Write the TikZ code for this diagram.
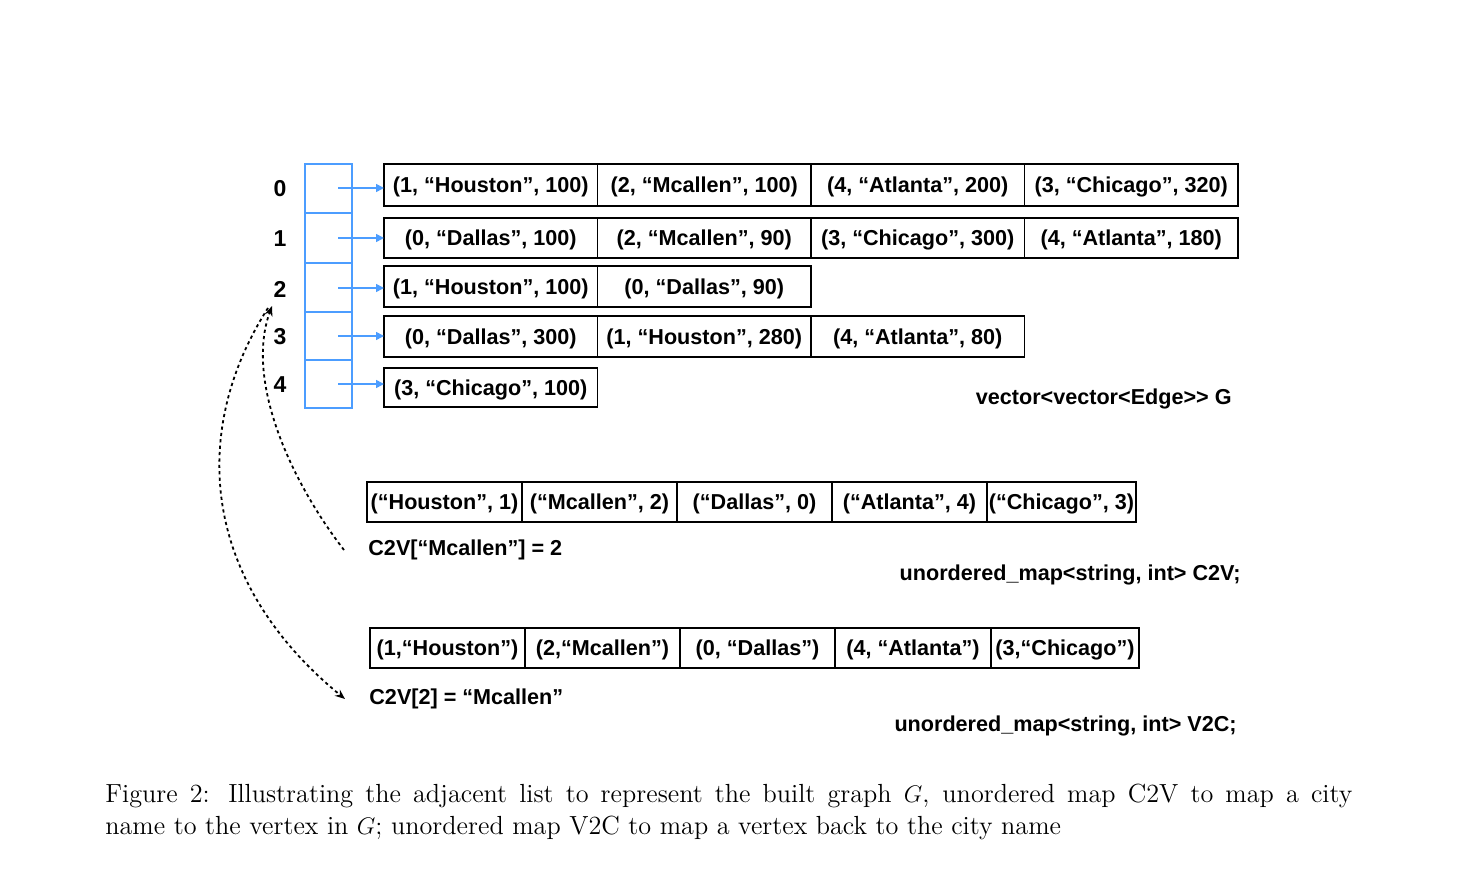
\documentclass[tikz,border=0pt]{standalone}
\usepackage{fontspec}
\setmainfont{Latin Modern Roman}
\newfontfamily\sansf{Liberation Sans}
\usetikzlibrary{arrows.meta}
\begin{document}
\begin{tikzpicture}[x=0.5pt,y=-0.5pt,
  cell/.style={draw,line width=0.9pt,font=\sansf\bfseries\fontsize{10.8}{13}\selectfont},
  idx/.style={draw=blue!55!cyan!70!white,line width=0.9pt},
  lbl/.style={font=\sansf\bfseries\fontsize{11.5}{13}\selectfont},
  txt/.style={font=\sansf\bfseries\fontsize{10.8}{13}\selectfont,inner sep=0pt},
  barr/.style={draw=blue!55!cyan!70!white,line width=0.8pt,-{Triangle[length=4pt,width=4pt]}},
  darr/.style={dash pattern=on 1.6pt off 1.6pt,line width=0.9pt,-{Stealth[length=5pt,width=4pt]}}]
\useasboundingbox (0,0) rectangle (1478,876);
% index column
\foreach \i/\a/\b/\c in {0/164/213/188,1/213/263/238,2/263/312/288,3/312/360/336,4/360/408/384}{
  \draw[idx] (305,\a) rectangle (352,\b);
  \node[lbl] (n\i) at (280,\c+1) {\i};
  \coordinate (s\i) at (338,\c);
  \coordinate (t\i) at (384,\c);
}
% adjacency rows
\newcommand\row[4]{%
  \foreach \t [count=\k from 0] in {#4}{
    \pgfmathsetmacro\xa{384+213.5*\k}\pgfmathsetmacro\xb{\xa+213.5}
    \draw[cell] (\xa,#2) rectangle (\xb,#3);
    \node[cell,draw=none] (r#1c\k) at ({(\xa+\xb)/2},{(#2+#3)/2+2}) {\t};
  }}
\row{0}{164}{206}{{(1, “Houston”, 100)},{(2, “Mcallen”, 100)},{(4, “Atlanta”, 200)},{(3, “Chicago”, 320)}}
\row{1}{218}{258}{{(0, “Dallas”, 100)},{(2, “Mcallen”, 90)},{(3, “Chicago”, 300)},{(4, “Atlanta”, 180)}}
\row{2}{266}{307}{{(1, “Houston”, 100)},{(0, “Dallas”, 90)}}
\row{3}{316}{357}{{(0, “Dallas”, 300)},{(1, “Houston”, 280)},{(4, “Atlanta”, 80)}}
\row{4}{368}{407}{{(3, “Chicago”, 100)}}
\foreach \i in {0,...,4}{\draw[barr] (s\i) -- (t\i);}
\node[txt,anchor=east] (vg) at (1232,399) {vector<vector<Edge>> G};
% C2V
\foreach \t/\xa/\xb [count=\k] in {{(“Houston”, 1)}/367/522,{(“Mcallen”, 2)}/522/677,{(“Dallas”, 0)}/677/832,{(“Atlanta”, 4)}/832/987,{(“Chicago”, 3)}/987/1136}{
  \draw[cell] (\xa,482) rectangle (\xb,522);
  \node[cell,draw=none] (c\k) at ({(\xa+\xb)/2},504) {\t};
}
\foreach \t/\xa/\xb [count=\k] in {{(1,“Houston”)}/370/525,{(2,“Mcallen”)}/525/680,{(0, “Dallas”)}/680/835,{(4, “Atlanta”)}/835/991,{(3,“Chicago”)}/991/1139}{
  \draw[cell] (\xa,628) rectangle (\xb,668);
  \node[cell,draw=none] (v\k) at ({(\xa+\xb)/2},650) {\t};
}
\node[txt,anchor=west] (e1) at (368,550) {C2V[“Mcallen”] = 2};
\node[txt,anchor=east] (m1) at (1241,575) {unordered\_map<string, int> C2V;};
\node[txt,anchor=west] (e2) at (369,699) {C2V[2] = “Mcallen”};
\node[txt,anchor=east] (m2) at (1237,726) {unordered\_map<string, int> V2C;};
% dotted arrows
\draw[darr] ([xshift=-12]e1.west) .. controls (290,480) and (245,380) .. (272,306);
\draw[darr] (268,308) .. controls (190,430) and (200,580) .. ([xshift=-12]e2.west);
% caption
\node[anchor=north west,inner sep=0pt,text width=623.5pt,align=justify,font=\fontsize{13.1}{16}\selectfont] (cap) at (105,784)
 {Figure 2: Illustrating the adjacent list to represent the built graph $G$, unordered map C2V to map a city\linebreak name to the vertex in $G$; unordered map V2C to map a vertex back to the city name};
\end{tikzpicture}
\end{document}
